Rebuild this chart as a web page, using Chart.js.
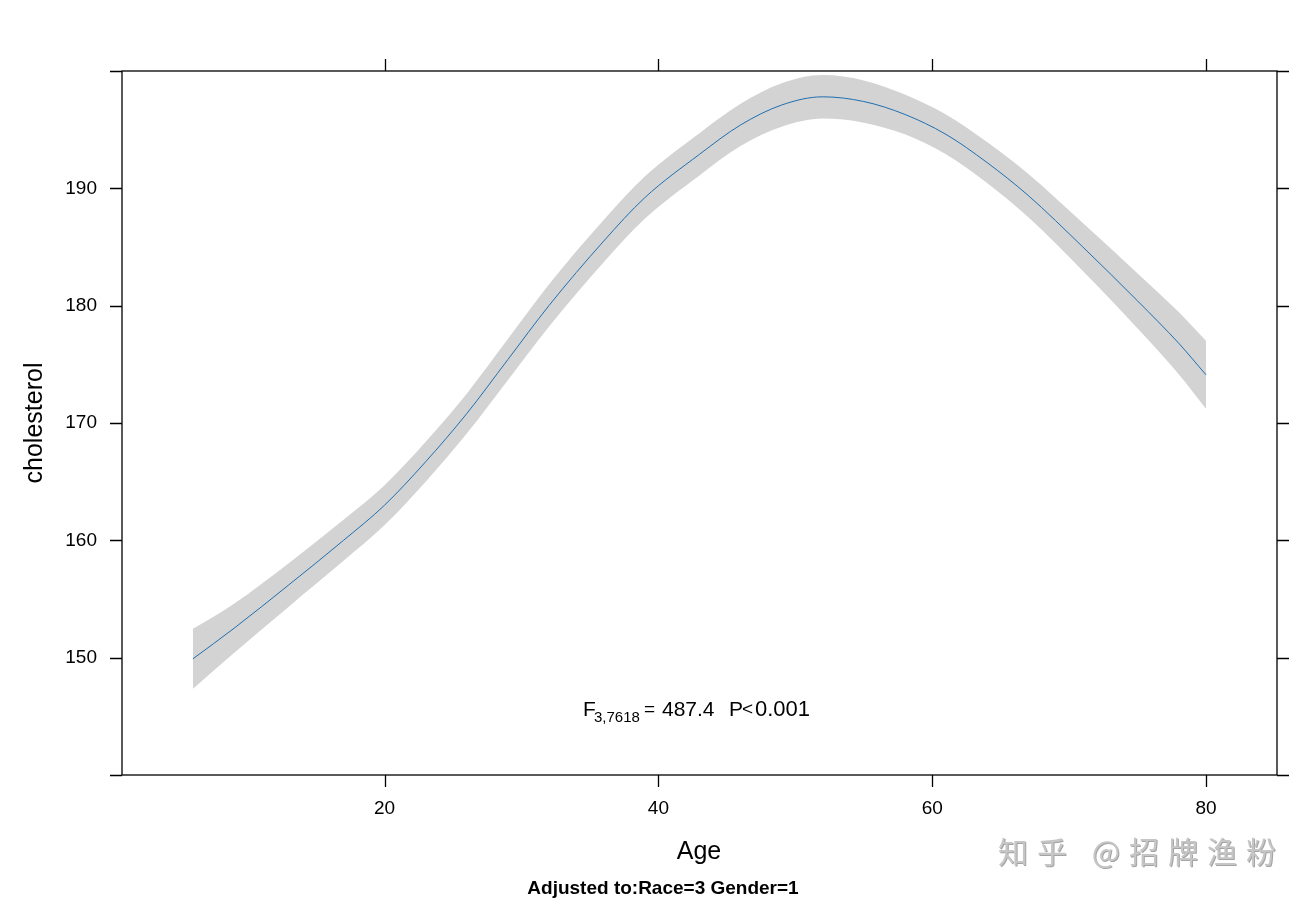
<!DOCTYPE html>
<html>
<head>
<meta charset="utf-8">
<script src="https://cdn.jsdelivr.net/npm/chart.js@4.4.1/dist/chart.umd.min.js"></script>
<style>
  html, body { margin: 0; padding: 0; background: #fff; }
  #wrap { width: 1315px; height: 906px; }
</style>
</head>
<body>
<div id="wrap"><canvas id="chart" width="1315" height="906"></canvas></div>
<script>
// Data
const ages     = [6, 9, 13, 17, 20, 23, 26, 29, 32, 36, 39, 43, 46, 49, 52, 55, 58, 61, 64, 67, 71, 75, 78, 80];
const fitted   = [149.9, 152.5, 156.2, 160.0, 163.0, 166.7, 170.8, 175.4, 180.0, 185.5, 189.2, 192.9,
                  195.4, 197.1, 197.8, 197.4, 196.3, 194.6, 192.2, 189.4, 185.0, 180.4, 176.8, 174.1];
const lowerCI  = [147.35, 150.4, 154.35, 158.25, 161.3, 165.0, 169.1, 173.65, 178.2, 183.7, 187.4, 191.1,
                  193.6, 195.25, 195.95, 195.6, 194.6, 192.9, 190.45, 187.55, 182.95, 178.05, 174.15, 171.2];
const upperCI  = [152.45, 154.6, 158.05, 161.75, 164.7, 168.4, 172.5, 177.15, 181.8, 187.3, 191.0, 194.7,
                  197.2, 198.95, 199.65, 199.2, 198.0, 196.3, 193.95, 191.25, 187.05, 182.75, 179.45, 177.0];

const xTicks   = [20, 40, 60, 80];
const yTicks   = [140, 150, 160, 170, 180, 190, 200];
const yLabels  = [150, 160, 170, 180, 190];

const pts = (ys) => ages.map((a, i) => ({ x: a, y: ys[i] }));

// Box, ticks and text, drawn from the chart's own scales
const framePlugin = {
  id: 'frame',
  afterDraw(chart) {
    const { ctx, chartArea: a, scales } = chart;
    const xs = scales.x, ys = scales.y;
    ctx.save();
    ctx.strokeStyle = '#000';
    ctx.lineWidth = 1.3;
    ctx.strokeRect(a.left, a.top, a.right - a.left, a.bottom - a.top);

    ctx.beginPath();
    xTicks.forEach((v) => {
      const px = Math.round(xs.getPixelForValue(v)) + 0.5;
      ctx.moveTo(px, a.bottom); ctx.lineTo(px, a.bottom + 12);
      ctx.moveTo(px, a.top);    ctx.lineTo(px, a.top - 12);
    });
    yTicks.forEach((v) => {
      const py = Math.round(ys.getPixelForValue(v)) + 0.5;
      ctx.moveTo(a.left, py);  ctx.lineTo(a.left - 12, py);
      ctx.moveTo(a.right, py); ctx.lineTo(a.right + 12, py);
    });
    ctx.stroke();

    ctx.fillStyle = '#000';
    ctx.font = '19px "Liberation Sans", Arial, sans-serif';
    ctx.textAlign = 'center';
    ctx.textBaseline = 'middle';
    xTicks.forEach((v) => ctx.fillText(String(v), xs.getPixelForValue(v), 809));
    ctx.textAlign = 'right';
    yLabels.forEach((v) => ctx.fillText(String(v), 97, ys.getPixelForValue(v)));

    // axis titles
    ctx.font = '25px "Liberation Sans", Arial, sans-serif';
    ctx.textAlign = 'center';
    ctx.fillText('Age', 699, 852);
    ctx.save();
    ctx.translate(35, 423);
    ctx.rotate(-Math.PI / 2);
    ctx.fillText('cholesterol', 0, 0);
    ctx.restore();

    // footnote
    ctx.font = 'bold 19px "Liberation Sans", Arial, sans-serif';
    ctx.fillText('Adjusted to:Race=3 Gender=1', 663, 889);

    // statistic annotation
    ctx.textAlign = 'left';
    ctx.textBaseline = 'alphabetic';
    ctx.font = '21px "Liberation Sans", Arial, sans-serif';
    ctx.fillText('F', 583, 716);
    ctx.font = '15px "Liberation Sans", Arial, sans-serif';
    ctx.fillText('3,7618', 594, 722);
    ctx.font = '19px "Liberation Sans", Arial, sans-serif';
    ctx.fillText('=', 644, 715);
    ctx.font = '21px "Liberation Sans", Arial, sans-serif';
    ctx.fillText('487.4', 662, 716);
    ctx.fillText('P', 729, 716);
    ctx.font = '19px "Liberation Sans", Arial, sans-serif';
    ctx.fillText('<', 742, 715);
    ctx.font = '22px "Liberation Sans", Arial, sans-serif';
    ctx.fillText('0.001', 755, 716);

    // watermark
    ctx.font = '30px "Noto Sans CJK SC", sans-serif';
    ctx.textBaseline = 'middle';
    ctx.letterSpacing = '9px';
    ctx.shadowColor = 'rgba(90,90,90,0.55)';
    ctx.shadowOffsetX = 1;
    ctx.shadowOffsetY = 1;
    ctx.fillStyle = '#c6c6c6';
    ctx.fillText('知乎 @招牌渔粉', 998, 852);
    ctx.restore();
  }
};

new Chart(document.getElementById('chart'), {
  type: 'line',
  data: {
    datasets: [
      {
        label: 'fit',
        data: pts(fitted),
        borderColor: '#1f6fb0',
        borderWidth: 1,
        pointRadius: 0,
        cubicInterpolationMode: 'monotone',
        fill: false
      },
      {
        label: 'upper',
        data: pts(upperCI),
        borderWidth: 0,
        borderColor: 'rgba(0,0,0,0)',
        backgroundColor: '#d3d3d3',
        pointRadius: 0,
        cubicInterpolationMode: 'monotone',
        fill: '+1'
      },
      {
        label: 'lower',
        data: pts(lowerCI),
        borderWidth: 0,
        borderColor: 'rgba(0,0,0,0)',
        pointRadius: 0,
        cubicInterpolationMode: 'monotone',
        fill: false
      }
    ]
  },
  options: {
    responsive: false,
    animation: false,
    layout: { padding: { left: 122, right: 38, top: 71, bottom: 131 } },
    plugins: { legend: { display: false }, tooltip: { enabled: false } },
    scales: {
      x: { type: 'linear', min: 0.82, max: 85.18, display: false },
      y: { type: 'linear', min: 140, max: 200, display: false }
    }
  },
  plugins: [framePlugin]
});
</script>
</body>
</html>
